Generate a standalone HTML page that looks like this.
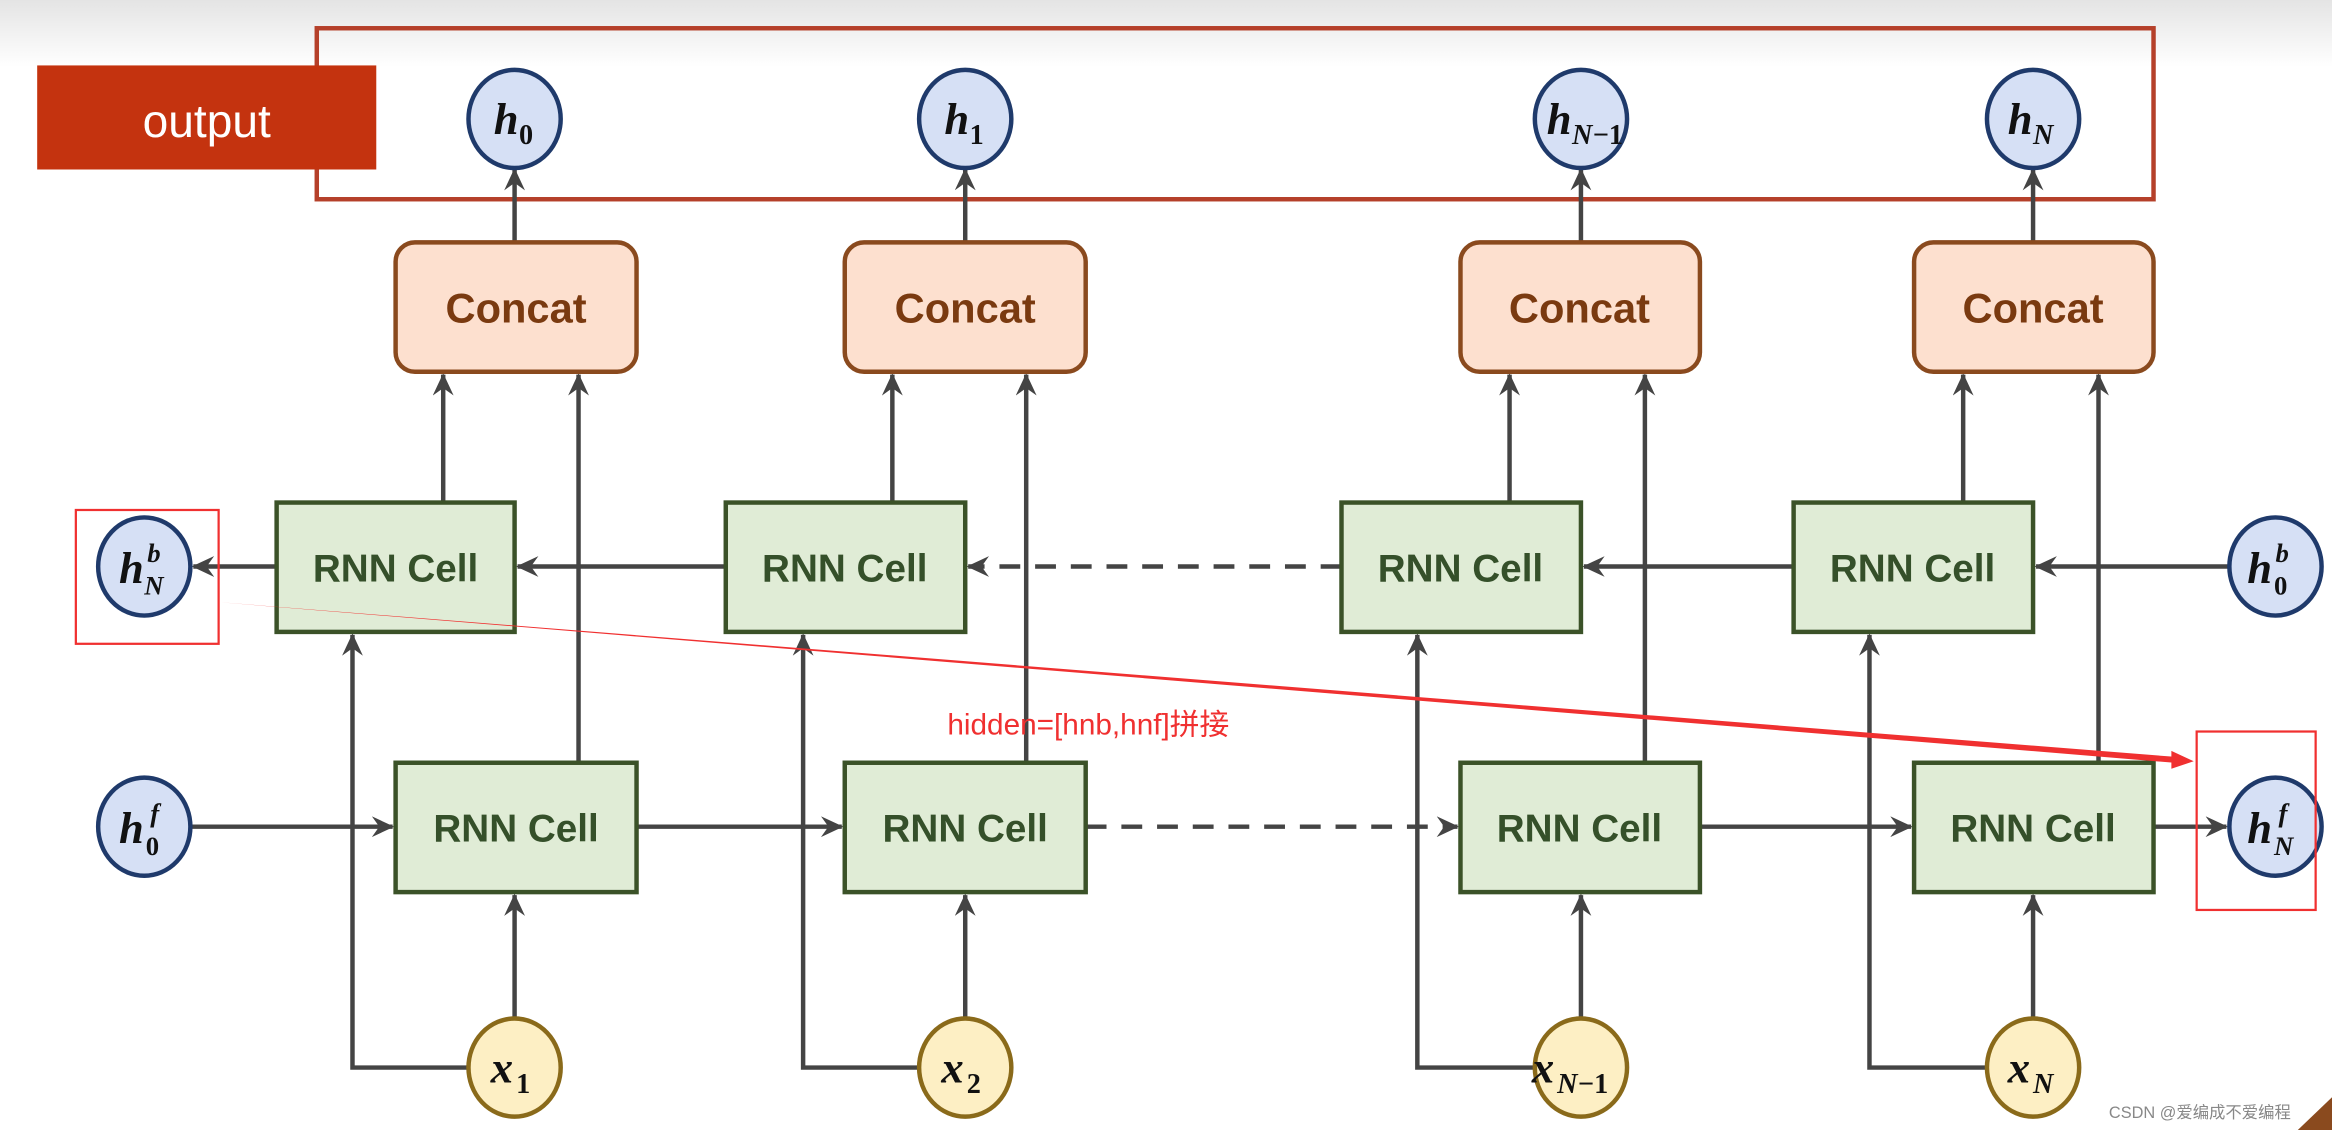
<!DOCTYPE html>
<html><head><meta charset="utf-8"><style>
html,body{margin:0;padding:0;background:#fff;}
svg{display:block}
.c{font-family:"Liberation Sans","DejaVu Sans",sans-serif;font-weight:bold;}
.m{font-family:"Liberation Serif",serif;font-style:italic;font-weight:bold;}
.s{font-family:"Liberation Serif",serif;font-weight:bold;}
</style></head><body>
<svg width="2332" height="1130" viewBox="0 0 1568 760" preserveAspectRatio="none" xmlns="http://www.w3.org/2000/svg">
<defs>
<linearGradient id="g" x1="0" y1="0" x2="0" y2="1"><stop offset="0" stop-color="#e4e4e4"/><stop offset="1" stop-color="#fff"/></linearGradient>
<marker id="a" markerWidth="15" markerHeight="14" refX="14" refY="7" orient="auto" markerUnits="userSpaceOnUse"><path d="M0,0 L15,7 L0,14 L5,7 Z" fill="#444"/></marker>
</defs>
<rect width="1568" height="760" fill="#fff"/>
<rect width="1568" height="45" fill="url(#g)"/>
<rect x="213" y="19" width="1235" height="115" fill="none" stroke="#b5402a" stroke-width="3"/>
<rect x="25" y="44" width="228" height="70" fill="#c4330f"/>
<text x="139" y="92" text-anchor="middle" font-family="Liberation Sans,sans-serif" font-size="31" fill="#fff">output</text>
<g stroke="#444" stroke-width="3" fill="none" marker-end="url(#a)">
<line x1="346" y1="163" x2="346" y2="114"/><line x1="649" y1="163" x2="649" y2="114"/>
<line x1="1063" y1="163" x2="1063" y2="114"/><line x1="1367" y1="163" x2="1367" y2="114"/>
<line x1="298" y1="338" x2="298" y2="252"/><line x1="600" y1="338" x2="600" y2="252"/>
<line x1="1015" y1="338" x2="1015" y2="252"/><line x1="1320" y1="338" x2="1320" y2="252"/>
<line x1="389" y1="513" x2="389" y2="252"/><line x1="690" y1="513" x2="690" y2="252"/>
<line x1="1106" y1="513" x2="1106" y2="252"/><line x1="1411" y1="513" x2="1411" y2="252"/>
<line x1="346" y1="686" x2="346" y2="602"/><line x1="649" y1="686" x2="649" y2="602"/>
<line x1="1063" y1="686" x2="1063" y2="602"/><line x1="1367" y1="686" x2="1367" y2="602"/>
<polyline points="315,718 237,718 237,427"/><polyline points="618,718 540,718 540,427"/>
<polyline points="1032,718 953,718 953,427"/><polyline points="1336,718 1257,718 1257,427"/>
<line x1="186" y1="381" x2="130" y2="381"/><line x1="488" y1="381" x2="348" y2="381"/>
<line x1="902" y1="381" x2="651" y2="381" stroke-dasharray="14,10"/>
<line x1="1206" y1="381" x2="1065" y2="381"/><line x1="1499" y1="381" x2="1369" y2="381"/>
<line x1="128" y1="556" x2="264" y2="556"/><line x1="428" y1="556" x2="566" y2="556"/>
<line x1="730" y1="556" x2="980" y2="556" stroke-dasharray="14,10"/>
<line x1="1143" y1="556" x2="1285" y2="556"/><line x1="1448" y1="556" x2="1497" y2="556"/>
</g>
<g fill="#fde0cf" stroke="#8a4a1e" stroke-width="3">
<rect x="266" y="163" width="162" height="87" rx="13"/><rect x="568" y="163" width="162" height="87" rx="13"/>
<rect x="982" y="163" width="161" height="87" rx="13"/><rect x="1287" y="163" width="161" height="87" rx="13"/>
</g>
<g class="c" font-size="28" fill="#7a3a10" text-anchor="middle">
<text x="347" y="217">Concat</text><text x="649" y="217">Concat</text><text x="1062" y="217">Concat</text><text x="1367" y="217">Concat</text>
</g>
<g fill="#e0ecd6" stroke="#3b5228" stroke-width="3">
<rect x="186" y="338" width="160" height="87"/><rect x="488" y="338" width="161" height="87"/>
<rect x="902" y="338" width="161" height="87"/><rect x="1206" y="338" width="161" height="87"/>
<rect x="266" y="513" width="162" height="87"/><rect x="568" y="513" width="162" height="87"/>
<rect x="982" y="513" width="161" height="87"/><rect x="1287" y="513" width="161" height="87"/>
</g>
<g class="c" font-size="26" fill="#35502a" text-anchor="middle">
<text x="266" y="391">RNN Cell</text><text x="568" y="391">RNN Cell</text><text x="982" y="391">RNN Cell</text><text x="1286" y="391">RNN Cell</text>
<text x="347" y="566">RNN Cell</text><text x="649" y="566">RNN Cell</text><text x="1062" y="566">RNN Cell</text><text x="1367" y="566">RNN Cell</text>
</g>
<g fill="#d6e0f5" stroke="#1f3a6b" stroke-width="3">
<ellipse cx="346" cy="80" rx="31" ry="33"/><ellipse cx="649" cy="80" rx="31" ry="33"/>
<ellipse cx="1063" cy="80" rx="31" ry="33"/><ellipse cx="1367" cy="80" rx="31" ry="33"/>
<ellipse cx="97" cy="381" rx="31" ry="33"/><ellipse cx="1530" cy="381" rx="31" ry="33"/>
<ellipse cx="97" cy="556" rx="31" ry="33"/><ellipse cx="1530" cy="556" rx="31" ry="33"/>
</g>
<g fill="#fdefc4" stroke="#8a6a1a" stroke-width="3">
<ellipse cx="346" cy="718" rx="31" ry="33"/><ellipse cx="649" cy="718" rx="31" ry="33"/>
<ellipse cx="1063" cy="718" rx="31" ry="33"/><ellipse cx="1367" cy="718" rx="31" ry="33"/>
</g>
<g fill="#111">
<text class="m" x="332" y="90" font-size="30">h</text><text class="s" x="349" y="97" font-size="19">0</text>
<text class="m" x="635" y="90" font-size="30">h</text><text class="s" x="652" y="97" font-size="19">1</text>
<text class="m" x="1040" y="90" font-size="30">h</text><text class="m" x="1057" y="97" font-size="19">N</text><text class="s" x="1071" y="97" font-size="19">−1</text>
<text class="m" x="1350" y="90" font-size="30">h</text><text class="m" x="1367" y="97" font-size="19">N</text>
<text class="m" x="80" y="392" font-size="30">h</text><text class="m" x="99" y="378" font-size="18">b</text><text class="m" x="97" y="400" font-size="18">N</text>
<text class="m" x="1511" y="392" font-size="30">h</text><text class="m" x="1530" y="378" font-size="18">b</text><text class="s" x="1529" y="400" font-size="18">0</text>
<text class="m" x="80" y="567" font-size="30">h</text><text class="m" x="101" y="553" font-size="18">f</text><text class="s" x="98" y="575" font-size="18">0</text>
<text class="m" x="1511" y="567" font-size="30">h</text><text class="m" x="1532" y="553" font-size="18">f</text><text class="m" x="1529" y="575" font-size="18">N</text>
<text class="m" x="330" y="728" font-size="30">x</text><text class="s" x="347" y="735" font-size="19">1</text>
<text class="m" x="633" y="728" font-size="30">x</text><text class="s" x="650" y="735" font-size="19">2</text>
<text class="m" x="1030" y="728" font-size="30">x</text><text class="m" x="1047" y="735" font-size="19">N</text><text class="s" x="1061" y="735" font-size="19">−1</text>
<text class="m" x="1350" y="728" font-size="30">x</text><text class="m" x="1367" y="735" font-size="19">N</text>
</g>
<g fill="none" stroke="#f03030" stroke-width="1.5">
<rect x="51" y="343" width="96" height="90"/><rect x="1477" y="492" width="80" height="120"/>
</g>
<path d="M147,405 L1462,509 L1462,513 Z" fill="#f03030"/>
<path d="M1460,505 L1475,512 L1460,517 Z" fill="#f03030"/>
<text x="637" y="494" font-family="Liberation Sans,'Noto Sans CJK SC',sans-serif" font-size="20" fill="#f03030">hidden=[hnb,hnf]拼接</text>
<text x="1418" y="752" font-family="Liberation Sans,'Noto Sans CJK SC',sans-serif" font-size="11" fill="#888">CSDN @爱编成不爱编程</text>
<path d="M1545,760 L1568,738 L1568,760 Z" fill="#8a4a1e"/>
</svg>
</body></html>
